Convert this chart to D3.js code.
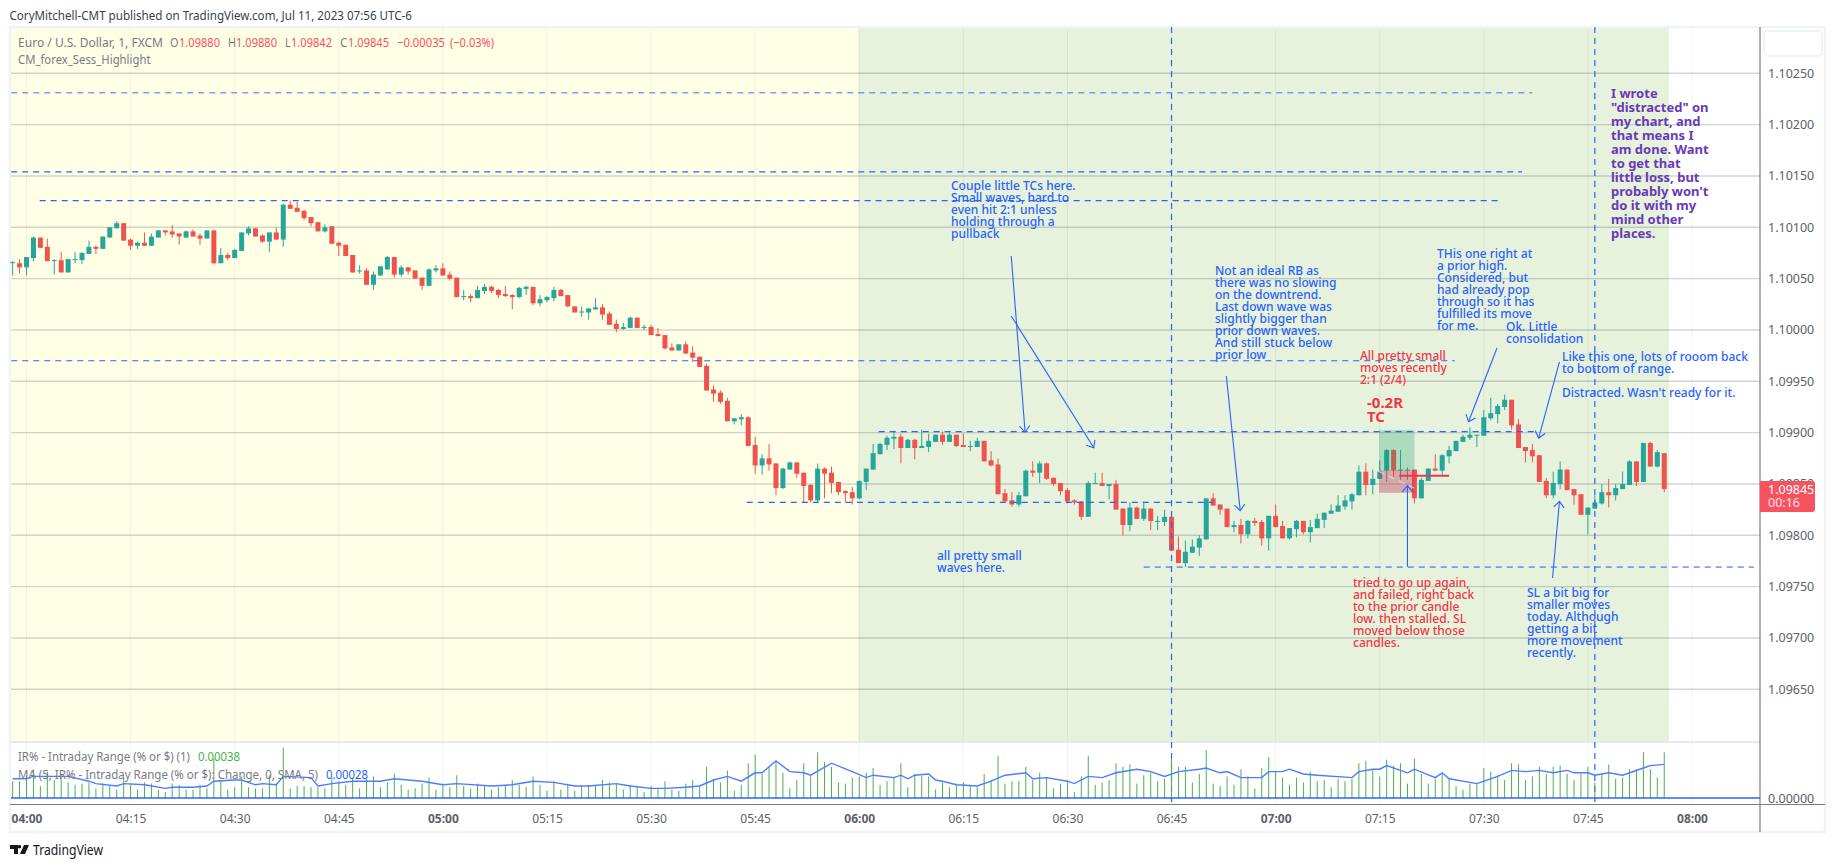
<!doctype html>
<html lang="en">

<head>
    <meta charset="UTF-8">
    <title>EURUSD 1m</title>
    <script src="https://d3js.org/d3.v7.min.js"></script>
    <style>
        html, body { margin: 0; background: #fff; overflow: hidden; }
        svg { display: block; }
        text { font-family: "Noto Sans", sans-serif; }
    </style>
</head>

<body>
    <svg id="chart" width="1835" height="867"></svg>

    <script>
        // candle values in points (1e-5) above 1.09000, first candle is two minutes before 04:00
        const opens = [1065,1065,1061,1070,1090,1081,1067,1068,1056,1068,
            1068,1074,1081,1079,1090,1099,1104,1088,1082,1085,
            1082,1090,1097,1096,1094,1090,1096,1092,1089,1097,
            1065,1073,1070,1077,1094,1099,1092,1086,1095,1088,
            1122,1119,1116,1110,1105,1096,1101,1085,1083,1073,
            1057,1058,1044,1053,1059,1071,1054,1061,1058,1051,
            1043,1058,1060,1054,1051,1032,1033,1031,1038,1042,
            1039,1035,1034,1032,1040,1042,1026,1029,1031,1039,
            1034,1023,1017,1017,1020,1022,1016,1006,1001,1002,
            1012,1002,1003,996,995,983,980,986,978,974,
            965,942,939,931,911,913,915,888,868,875,
            870,846,864,871,861,849,834,865,861,852,
            843,842,836,852,864,879,888,894,896,885,
            893,885,886,891,898,891,898,888,886,886,
            892,873,869,841,834,830,838,863,861,870,
            856,851,844,834,833,818,850,851,848,850,
            826,810,827,816,826,813,813,818,786,773,
            783,788,796,836,830,826,808,810,801,814,
            813,797,819,809,797,806,814,803,807,815,
            821,823,828,833,839,862,849,855,863,883,
            863,863,864,836,853,865,863,877,882,891,
            895,897,897,914,918,925,932,908,886,883,
            878,853,839,850,864,845,840,820,826,831,
            842,839,845,849,872,852,890,867,880];
        const highs = [1067,1069,1071,1091,1090,1089,1069,1076,1069,1076,
            1076,1087,1082,1091,1100,1106,1104,1089,1086,1095,
            1094,1097,1097,1102,1094,1097,1098,1094,1097,1097,
            1080,1075,1079,1095,1101,1099,1093,1095,1100,1123,
            1126,1125,1117,1110,1105,1103,1101,1086,1083,1073,
            1063,1060,1057,1062,1072,1071,1063,1061,1058,1051,
            1060,1063,1065,1057,1051,1039,1035,1043,1045,1043,
            1040,1043,1035,1042,1043,1042,1034,1033,1042,1040,
            1034,1023,1023,1021,1031,1025,1018,1010,1007,1013,
            1012,1005,1005,1002,995,987,986,989,984,974,
            967,946,941,934,914,918,916,896,879,889,
            870,866,872,871,861,850,870,866,867,852,
            844,847,853,865,889,890,897,901,899,894,
            894,903,899,898,901,900,898,899,892,895,
            892,882,875,845,842,842,864,872,872,871,
            856,851,846,835,833,853,861,861,850,854,
            826,832,828,833,826,819,825,818,799,795,
            796,800,836,841,830,826,814,816,815,817,
            815,819,830,814,807,815,814,815,821,822,
            830,839,839,841,868,870,864,873,884,884,
            883,866,864,856,865,879,879,887,892,898,
            905,898,922,934,928,937,932,913,886,889,
            878,856,862,872,864,845,840,827,839,850,
            855,850,862,873,872,890,891,883,880];
        const lows = [1053,1055,1053,1067,1080,1067,1054,1056,1056,1065,
            1064,1074,1074,1079,1090,1099,1087,1078,1079,1082,
            1082,1090,1092,1090,1083,1090,1091,1083,1089,1064,
            1065,1068,1070,1077,1092,1091,1085,1076,1088,1081,
            1118,1115,1107,1101,1096,1095,1084,1072,1072,1056,
            1055,1044,1039,1053,1059,1051,1052,1054,1050,1039,
            1043,1056,1053,1048,1032,1029,1027,1031,1035,1036,
            1031,1032,1020,1031,1034,1024,1023,1027,1028,1033,
            1022,1017,1013,1010,1020,1010,1005,998,1000,1002,
            1002,1000,995,994,981,980,980,977,969,964,
            941,930,928,911,908,907,887,860,859,863,
            839,845,864,856,832,832,832,836,841,839,
            832,830,835,844,864,879,883,884,870,885,
            874,885,881,891,888,891,886,886,882,886,
            872,867,840,833,828,828,838,857,851,854,
            848,839,831,830,815,818,850,848,835,825,
            800,804,816,814,805,805,809,785,773,769,
            783,780,796,829,820,808,803,792,797,809,
            790,785,808,797,796,798,801,793,807,807,
            821,823,825,825,839,839,840,855,852,857,
            854,854,831,836,853,863,859,870,882,891,
            893,886,897,912,909,922,903,885,871,871,
            852,836,836,845,844,830,820,801,826,830,
            827,834,845,849,848,852,867,866,842];
        const closes = [1066,1061,1071,1090,1080,1067,1068,1056,1069,1069,
            1075,1081,1079,1091,1100,1104,1087,1082,1085,1082,
            1091,1097,1095,1093,1091,1096,1091,1089,1097,1065,
            1073,1070,1078,1095,1099,1091,1086,1095,1088,1122,
            1118,1115,1109,1104,1096,1100,1084,1082,1072,1056,
            1058,1044,1054,1062,1071,1054,1061,1057,1050,1043,
            1059,1060,1053,1050,1032,1033,1031,1039,1042,1038,
            1034,1033,1032,1041,1042,1026,1030,1032,1039,1033,
            1023,1017,1018,1021,1022,1015,1005,1001,1003,1012,
            1002,1003,995,994,982,980,986,977,973,964,
            941,938,930,911,914,915,887,868,875,869,
            846,865,871,860,848,834,865,860,851,842,
            841,836,853,865,880,889,895,896,885,893,
            885,887,892,898,891,898,887,886,887,892,
            872,868,840,833,830,839,863,861,870,855,
            850,843,833,832,818,851,851,848,850,825,
            810,827,816,826,814,814,818,785,773,784,
            789,797,836,829,825,808,810,801,814,812,
            797,819,808,797,807,814,803,808,816,822,
            824,829,834,840,862,849,855,862,883,863,
            864,864,836,854,865,863,878,883,892,896,
            898,898,915,919,926,932,907,885,882,877,
            852,839,851,864,844,839,820,827,832,842,
            839,846,850,872,852,890,867,881,845];

        // intraday range bars, points
        const irRange = [14,14,18,24,10,22,15,20,13,11,12,13,8,12,10,7,17,11,7,13,
            12,7,5,12,11,7,7,11,8,33,15,7,9,18,9,8,8,19,12,42,
            8,10,10,9,9,8,17,14,11,17,8,16,18,9,13,20,11,7,8,12,
            17,7,12,9,19,10,8,12,10,7,9,11,15,11,9,18,11,6,14,7,
            12,6,10,11,11,15,13,12,7,11,10,5,10,8,14,7,6,12,15,10,
            26,16,13,23,6,11,29,36,20,26,31,21,8,15,29,18,38,30,26,13,
            12,17,18,21,25,11,14,17,29,9,20,18,18,7,13,9,12,13,10,9,
            20,15,35,12,14,14,26,15,21,17,8,12,15,5,18,35,11,13,15,29,
            26,28,12,19,21,14,16,33,26,26,13,20,40,12,10,18,11,24,18,8,
            25,34,22,17,11,17,13,22,14,15,9,16,14,16,29,31,24,18,32,27,
            29,12,33,20,12,16,20,17,10,7,12,12,25,22,19,15,29,28,15,18,
            26,20,26,27,20,15,20,26,13,20,28,16,17,24,24,38,24,17,38];

        // moving average line: minute after 04:00, points
        const maMinutes = [-2,0,1,3,6,9,10,13,14,17,20,21,24,26,27,30,31,33,34,36,37,41,42,44,47,51,53,57,60,62,67,70,73,76,79,81,85,87,90,92,95,97,99,101,103,105,106,108,110,112,113,116,119,121,122,125,126,127,128,130,131,132,134,137,139,141,144,145,147,150,151,153,155,157,160,162,164,166,169,170,172,173,175,178,179,181,182,184,186,191,192,194,195,196,199,200,203,204,205,209,212,214,216,218,220,222,223,225,226,228,230,233,234,236];
        const maValues = [16,16,18,18,18,14,12,10,12,11,8,9,9,10,14,15,15,11,12,11,18,17,10,12,14,14,16,14,11,12,10,11,14,13,10,10,12,10,8,8,9,10,15,18,14,21,21,31,22,21,19,29,22,17,19,17,19,16,19,20,15,14,11,10,14,19,21,16,17,14,12,18,17,21,24,22,18,22,24,25,21,22,17,17,22,22,24,20,19,17,22,24,24,27,21,24,17,21,16,12,18,23,22,23,21,23,21,21,19,21,19,25,27,28];

        const priceTicks = [1.1025, 1.102, 1.1015, 1.101, 1.1005, 1.1, 1.0995, 1.099, 1.0985, 1.098, 1.0975, 1.097, 1.0965];
        const timeTicks = [0, 15, 30, 45, 60, 75, 90, 105, 120, 135, 150, 165, 180, 195, 210, 225, 240];
        const timeLabels = ['04:00', '04:15', '04:30', '04:45', '05:00', '05:15', '05:30', '05:45', '06:00', '06:15', '06:30', '06:45', '07:00', '07:15', '07:30', '07:45', '08:00'];

        // drawn levels: price points, first minute, last minute
        const levelPoints = [1231, 1154, 1126, 970, 901, 832, 769];
        const levelFrom = [-2.2, -2.2, 1.9, -2.2, 122.8, 103.8, 161];
        const levelTo = [217, 215.5, 212, 205.8, 217.8, 171, 248.9];
        const markerMinutes = [165, 226];

        const colors = { up: '#26a69a', down: '#ef5350', blue: '#2962ff', red: '#f23645', purple: '#673ab7', label: '#5d606b' };
        const svg = d3.select('#chart');

        const toPrice = (p) => 1.09 + p / 1e5;

        const left = 11, right = 1760, paneBottom = 741;
        const xScale = d3.scaleLinear().domain([0, 240]).range([26.5, 1692]);
        const yScale = d3.scaleLinear().domain([1.1025, 1.0965]).range([73.3, 689.3]);
        const irScale = d3.scaleLinear().domain([0, 0.00042]).range([798, 747.6]);

        const candles = opens.map((o, i) => ({
            minute: i - 2, open: toPrice(o), high: toPrice(highs[i]), low: toPrice(lows[i]), close: toPrice(closes[i]), range: irRange[i] / 1e5
        }));

        // session backgrounds
        svg.append('rect').attr('x', left).attr('y', 27).attr('width', xScale(120) - left - 1).attr('height', paneBottom - 27).attr('fill', '#ffffe6');
        svg.append('rect').attr('x', xScale(120) - 1).attr('y', 27).attr('width', 1669 - xScale(120) + 1).attr('height', paneBottom - 27).attr('fill', '#e6f2dc');

        // time axis with its grid
        const xAxis = d3.axisBottom(xScale).tickValues(timeTicks).tickSize(0).tickPadding(10).tickFormat((d, i) => timeLabels[i]);
        const gx = svg.append('g').attr('transform', 'translate(0,804.5)').call(xAxis);
        gx.select('.domain').remove();
        gx.selectAll('text').attr('font-size', 12).attr('fill', colors.label)
            .attr('font-family', '"Noto Sans", sans-serif')
            .attr('font-weight', (d) => (d % 60 === 0 ? 700 : 400));

        const grid = svg.append('g');
        grid.selectAll('.vgrid').data(timeTicks).enter().append('line')
            .attr('x1', (d) => xScale(d)).attr('x2', (d) => xScale(d)).attr('y1', 27).attr('y2', 804)
            .attr('stroke', 'rgba(42,46,80,0.06)').attr('stroke-width', 1);
        grid.selectAll('.hgrid').data(priceTicks).enter().append('line')
            .attr('x1', left).attr('x2', right).attr('y1', (d) => yScale(d)).attr('y2', (d) => yScale(d))
            .attr('stroke', 'rgba(40,40,60,0.2)').attr('stroke-width', 1.4);

        // frame, pane separator and axis lines
        svg.append('rect').attr('x', 10).attr('y', 27).attr('width', 1815).attr('height', 805)
            .attr('fill', 'none').attr('stroke', '#f0f3fa').attr('stroke-width', 2.5);
        svg.append('line').attr('x1', left).attr('x2', right).attr('y1', 742).attr('y2', 742).attr('stroke', '#e6e8ee').attr('stroke-width', 2);
        svg.append('line').attr('x1', 10).attr('x2', 1825).attr('y1', 804.5).attr('y2', 804.5).attr('stroke', '#787b86').attr('stroke-width', 1.2);
        svg.append('line').attr('x1', right).attr('x2', right).attr('y1', 27).attr('y2', 832).attr('stroke', '#787b86').attr('stroke-width', 1.2);
        svg.append('rect').attr('x', 1764).attr('y', 31).attr('width', 58).attr('height', 25).attr('rx', 4)
            .attr('fill', '#fff').attr('stroke', '#f0f3fa').attr('stroke-width', 2);

        // price axis labels
        const yAxis = d3.axisRight(yScale).tickValues(priceTicks).tickSize(0).tickPadding(8).tickFormat(d3.format('.5f'));
        const gy = svg.append('g').attr('transform', `translate(${right},0)`).call(yAxis);
        gy.select('.domain').remove();
        gy.selectAll('text').attr('font-size', 12.5).attr('fill', colors.label).attr('font-family', '"Noto Sans", sans-serif');
        svg.append('text').attr('x', 1768).attr('y', 802.5).attr('font-size', 12.5).attr('fill', colors.label).text('0.00000');

        // candles
        const candleG = svg.append('g').selectAll('g').data(candles).enter().append('g');
        candleG.append('line')
            .attr('x1', (d) => xScale(d.minute)).attr('x2', (d) => xScale(d.minute))
            .attr('y1', (d) => yScale(d.high)).attr('y2', (d) => yScale(d.low))
            .attr('stroke', (d) => (d.close >= d.open ? colors.up : colors.down)).attr('stroke-width', 1);
        candleG.append('rect')
            .attr('x', (d) => xScale(d.minute) - 2.5).attr('width', 5)
            .attr('y', (d) => yScale(Math.max(d.open, d.close)))
            .attr('height', (d) => Math.max(1, Math.abs(yScale(d.open) - yScale(d.close))))
            .attr('fill', (d) => (d.close >= d.open ? colors.up : colors.down));

        // horizontal and vertical dashed levels, the first and last are paler and thicker
        const pale = (i) => i === 0 || i === 6;
        svg.append('g').selectAll('line').data(levelPoints).enter().append('line')
            .attr('x1', (d, i) => Math.max(left, xScale(levelFrom[i]))).attr('x2', (d, i) => xScale(levelTo[i]))
            .attr('y1', (d) => yScale(toPrice(d))).attr('y2', (d) => yScale(toPrice(d)))
            .attr('stroke', colors.blue).attr('stroke-dasharray', '6 5')
            .attr('stroke-width', (d, i) => (pale(i) ? 1.6 : 1.2))
            .attr('stroke-opacity', (d, i) => (pale(i) ? 0.6 : 1));
        svg.append('g').selectAll('line').data(markerMinutes).enter().append('line')
            .attr('x1', (d) => xScale(d)).attr('x2', (d) => xScale(d)).attr('y1', 27).attr('y2', 802)
            .attr('stroke', colors.blue).attr('stroke-width', 1.2).attr('stroke-dasharray', '6 5');

        // position box: entry zone over stop zone
        const box = svg.append('g');
        box.append('rect').attr('x', xScale(194.9)).attr('width', xScale(200) - xScale(194.9))
            .attr('y', yScale(toPrice(902.5))).attr('height', yScale(toPrice(863.6)) - yScale(toPrice(902.5)))
            .attr('fill', 'rgba(8,153,100,0.25)');
        box.append('rect').attr('x', xScale(194.9)).attr('width', xScale(200) - xScale(194.9))
            .attr('y', yScale(toPrice(863.6))).attr('height', yScale(toPrice(841.4)) - yScale(toPrice(863.6)))
            .attr('fill', 'rgba(190,60,90,0.4)');
        box.append('line').attr('x1', xScale(194.9)).attr('x2', xScale(200))
            .attr('y1', yScale(toPrice(862))).attr('y2', yScale(toPrice(846)))
            .attr('stroke', '#e4dede').attr('stroke-width', 1).attr('stroke-dasharray', '6 5');
        svg.append('line').attr('x1', xScale(197.8)).attr('x2', xScale(205))
            .attr('y1', yScale(toPrice(858))).attr('y2', yScale(toPrice(858)))
            .attr('stroke', colors.red).attr('stroke-width', 2);

        // arrows: from minute/points to minute/points
        const arrows = [
            [141.9, 1072, 143.9, 900.6],
            [141.9, 1013.6, 153.8, 885.3],
            [172.9, 955.1, 174.9, 823.9],
            [211.9, 982.4, 207.8, 910.6],
            [220.9, 969, 217.9, 894.7],
            [199, 769.4, 199, 848.3],
            [219.9, 758.4, 220.9, 833.1]
        ];
        const arrowG = svg.append('g').attr('stroke', colors.blue).attr('stroke-width', 1.1).attr('fill', 'none');
        arrows.forEach((a) => {
            const x1 = xScale(a[0]), y1 = yScale(toPrice(a[1])), x2 = xScale(a[2]), y2 = yScale(toPrice(a[3]));
            const angle = Math.atan2(y2 - y1, x2 - x1);
            const wing = (off) => `${x2 - 8 * Math.cos(angle + off)},${y2 - 8 * Math.sin(angle + off)}`;
            arrowG.append('line').attr('x1', x1).attr('y1', y1).attr('x2', x2).attr('y2', y2);
            arrowG.append('polyline').attr('points', `${wing(0.7)} ${x2},${y2} ${wing(-0.7)}`);
        });

        // lower pane
        svg.append('g').selectAll('line').data(candles).enter().append('line')
            .attr('x1', (d) => xScale(d.minute)).attr('x2', (d) => xScale(d.minute))
            .attr('y1', (d) => irScale(d.range)).attr('y2', irScale(0))
            .attr('stroke', '#4caf50').attr('stroke-width', 1);
        svg.append('line').attr('x1', left).attr('x2', right).attr('y1', irScale(0)).attr('y2', irScale(0))
            .attr('stroke', colors.blue).attr('stroke-width', 1.4);
        const maLine = d3.line().x((d) => xScale(d)).y((d, i) => irScale(maValues[i] / 1e5));
        svg.append('path').attr('d', maLine(maMinutes)).attr('fill', 'none')
            .attr('stroke', '#4c7dff').attr('stroke-width', 1.4);

        // text helper, y is the centre of the first line
        function note(lines, x, y, step, color, size, weight) {
            const t = svg.append('text').attr('fill', color).attr('font-size', size).attr('font-weight', weight || 500);
            lines.forEach((s, i) => {
                t.append('tspan').attr('x', x).attr('y', y + i * step + size * 0.36).text(s);
            });
        }

        note(['Couple little TCs here.', 'Small waves, hard to', 'even hit 2:1 unless', 'holding through a', 'pullback'], 951, 186, 12, colors.blue, 12);
        note(['Not an ideal RB as', 'there was no slowing', 'on the downtrend.', 'Last down wave was', 'slightly bigger than', 'prior down waves.', 'And still stuck below', 'prior low'], 1215, 271, 12, colors.blue, 12);
        note(['All pretty small', 'moves recently', '2:1 (2/4)'], 1360, 356, 12, colors.red, 12);
        note(['-0.2R', 'TC'], 1367, 403, 14, colors.red, 15, 700);
        note(['THis one right at', 'a prior high.', 'Considered, but', 'had already pop', 'through so it has', 'fulfilled its move', 'for me.'], 1437, 254, 12, colors.blue, 12);
        note(['Ok. Little', 'consolidation'], 1506, 327, 12, colors.blue, 12);
        note(['Like this one, lots of rooom back', 'to bottom of range.', '', 'Distracted. Wasn\'t ready for it.'], 1562, 357, 12, colors.blue, 12);
        note(['I wrote', '"distracted" on', 'my chart, and', 'that means I', 'am done. Want', 'to get that', 'little loss, but', 'probably won\'t', 'do it with my', 'mind other', 'places.'], 1611, 93.5, 14, colors.purple, 13, 700);
        note(['all pretty small', 'waves here.'], 937, 556, 12, colors.blue, 12);
        note(['tried to go up again,', 'and failed, right back', 'to the prior candle', 'low. then stalled. SL', 'moved below those', 'candles.'], 1353, 583, 12, colors.red, 12);
        note(['SL a bit big for', 'smaller moves', 'today. Although', 'getting a bit', 'more movement', 'recently.'], 1527, 593, 12, colors.blue, 12);

        // last price badge
        svg.append('path').attr('d', 'M1760,481H1812a3,3 0 0 1 3,3V509a3,3 0 0 1 -3,3H1760Z').attr('fill', '#f7525f');
        svg.append('text').attr('x', 1768).attr('y', 494).attr('font-size', 12.5).attr('fill', '#fff').text('1.09845');
        svg.append('text').attr('x', 1768).attr('y', 507).attr('font-size', 12.5).attr('fill', '#ffe3e5').text('00:16');

        // legends, widths fitted to the original font
        const plain = (s, x, y, fill, size, len) => {
            const t = svg.append('text').attr('x', x).attr('y', y).attr('font-size', size || 12.5).attr('fill', fill).text(s);
            if (len) t.attr('textLength', len).attr('lengthAdjust', 'spacingAndGlyphs');
            return t;
        };
        const gray = '#787b86', tick = '#f7525f';
        plain('CoryMitchell-CMT published on TradingView.com, Jul 11, 2023 07:56 UTC-6', 9.5, 19.5, '#3a3e49', 12.5, 402.5);
        plain('Euro / U.S. Dollar, 1, FXCM', 18, 46.5, gray, 12.5, 145);
        plain('O', 170, 46.5, gray, 12.5, 8.5); plain('1.09880', 179, 46.5, tick, 12.5, 41);
        plain('H', 228, 46.5, gray, 12.5, 8); plain('1.09880', 236, 46.5, tick, 12.5, 41);
        plain('L', 285, 46.5, gray, 12.5, 5.5); plain('1.09842', 291, 46.5, tick, 12.5, 41);
        plain('C', 340, 46.5, gray, 12.5, 7.5); plain('1.09845', 348, 46.5, tick, 12.5, 41);
        plain('\u22120.00035', 397, 46.5, tick, 12.5, 48); plain('(\u22120.03%)', 450, 46.5, tick, 12.5, 44);
        plain('CM_forex_Sess_Highlight', 18, 63.5, gray, 12.5, 132.5);
        plain('IR% - Intraday Range (% or $) (1)', 18, 761, gray, 12.5, 172);
        plain('0.00038', 198, 761, '#4caf50', 12.5, 42);
        plain('MA (5, IR% - Intraday Range (% or $): Change, 0, SMA, 5)', 18, 778.5, gray, 12.5, 300);
        plain('0.00028', 326, 778.5, colors.blue, 12.5, 42);

        // TradingView mark
        svg.append('path').attr('d', 'M10,845H18V854H14V849H10ZM24,845H29L25,854H20ZM19.5,845a1.8,1.8 0 1 1 0,3.6a1.8,1.8 0 1 1 0,-3.6Z').attr('fill', '#131722');
        plain('TradingView', 33, 855, '#131722', 14, 70);
    </script>
</body>

</html>
